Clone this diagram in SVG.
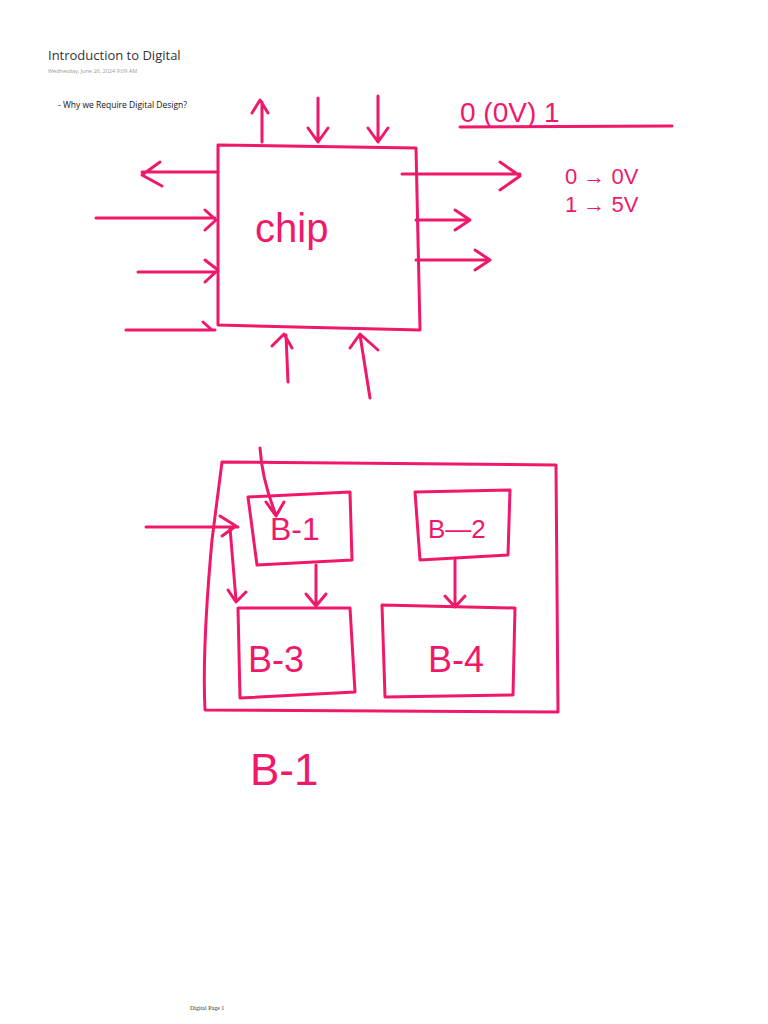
<svg xmlns="http://www.w3.org/2000/svg" width="768" height="1024" viewBox="0 0 768 1024">
<style>
.ink{fill:none;stroke:#f0186a;stroke-width:3;stroke-linecap:round;stroke-linejoin:round}
.hw{fill:#f0186a;font-family:"Liberation Sans",sans-serif}
</style>
<rect width="768" height="1024" fill="#fff"/>
<text x="48" y="60" font-family="'Open Sans',sans-serif" font-size="13" fill="#333">Introduction to Digital</text>
<text x="48" y="73" font-family="'Open Sans',sans-serif" font-size="5.5" fill="#999">Wednesday, June 26, 2024      9:09 AM</text>
<text x="58" y="108" font-family="'Open Sans',sans-serif" font-size="8.5" fill="#111">-  Why we Require Digital Design?</text>
<text x="190" y="1010" font-family="'Liberation Serif',serif" font-size="6" fill="#333">Digital Page 1</text>
<g id="chip">
<path class="ink" d="M218 145 L218 325 L420 330 L416 148 Z"/>
<text class="hw" x="255" y="242" font-size="40">chip</text>
</g>
<g id="connectors">
<path class="ink" d="M262 142 V102 M252 113 L260 100 L268 113"/>
<path class="ink" d="M318 98 V142 M308 128 L318 142 L328 128"/>
<path class="ink" d="M378 96 V142 M368 128 L378 142 L388 128"/>
<path class="ink" d="M218 172 H142 M160 162 L142 175 L162 186"/>
<path class="ink" d="M96 218 H215 M205 210 L216 220 L205 230"/>
<path class="ink" d="M138 272 H215 M205 260 L218 270 L205 282"/>
<path class="ink" d="M126 330 H215 M203 322 L212 330"/>
<path class="ink" d="M402 174 H520 M500 162 L520 176 L500 190"/>
<path class="ink" d="M416 220 H470 M455 210 L470 220 L455 230"/>
<path class="ink" d="M416 260 H490 M475 250 L490 260 L475 270"/>
<path class="ink" d="M288 382 L286 335 M272 346 L284 334 L292 348"/>
<path class="ink" d="M370 398 L360 335 M350 348 L360 334 L378 350"/>
<path class="ink" d="M260 448 Q262 480 276 515 M266 502 L276 516 L284 502"/>
<path class="ink" d="M146 527 H238 M220 516 L236 526 L222 536"/>
<path class="ink" d="M230 528 L236 600 M228 590 L236 602 L246 592"/>
<path class="ink" d="M316 565 V605 M306 594 L316 606 L326 594"/>
<path class="ink" d="M455 560 V606 M445 596 L455 607 L465 596"/>
</g>
<g id="system">
<path class="ink" d="M222 462 L556 465 L558 712 L205 710 Q202 650 212 540 Z"/>
</g>
<g id="b1"><path class="ink" d="M248 497 L350 492 L352 560 L257 565 Z"/><text class="hw" x="270" y="540" font-size="32">B-1</text></g>
<g id="b2"><path class="ink" d="M415 492 L510 490 L508 555 L420 560 Z"/><text class="hw" x="428" y="538" font-size="26">B—2</text></g>
<g id="b3"><path class="ink" d="M238 608 L350 608 L355 692 L240 698 Z"/><text class="hw" x="248" y="672" font-size="36">B-3</text></g>
<g id="b4"><path class="ink" d="M382 605 L515 608 L513 695 L385 697 Z"/><text class="hw" x="428" y="672" font-size="36">B-4</text></g>
<g id="notes">
<text class="hw" x="460" y="122" font-size="28">0 (0V)  1</text>
<path class="ink" d="M460 127 L672 126"/>
<text class="hw" x="565" y="184" font-size="22">0 → 0V</text>
<text class="hw" x="565" y="212" font-size="22">1 → 5V</text>
<text class="hw" x="250" y="785" font-size="44">B-1</text>
</g>
</svg>
